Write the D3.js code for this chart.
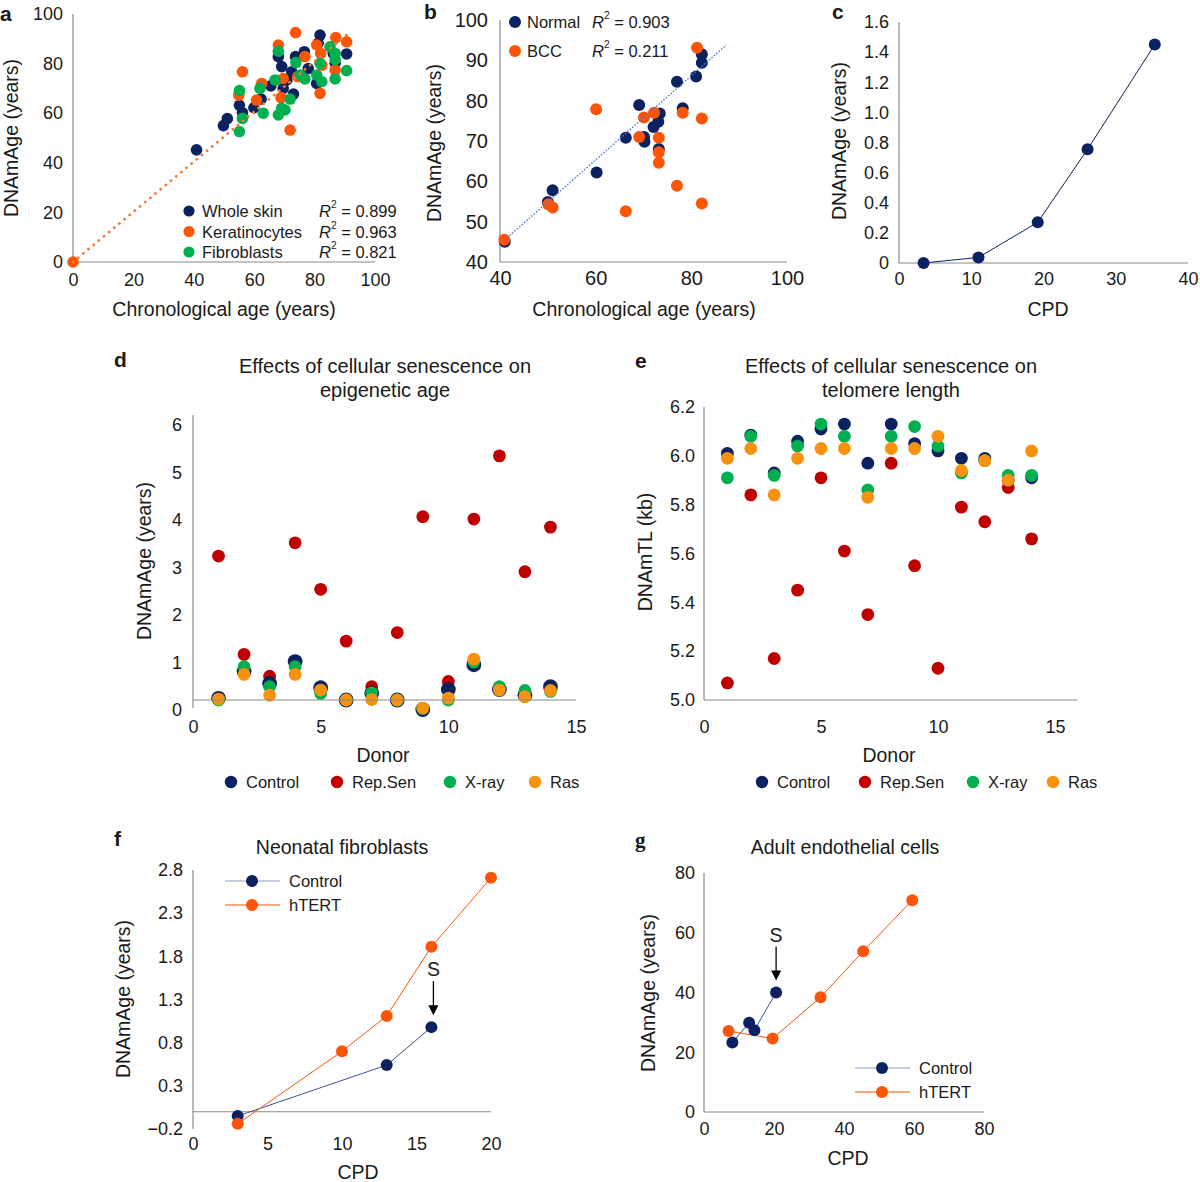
<!DOCTYPE html>
<html>
<head>
<meta charset="utf-8">
<script src="https://cdn.jsdelivr.net/npm/d3@7"></script>
<style>
  body { margin: 0; background: #fff; }
  svg { display: block; font-family: "Liberation Sans", Arial, sans-serif; }
  text { fill: #1a1a1a; }
</style>
</head>
<body>
<div id="chart"></div>
<script>
// ---- data ----
// panel a: [chronological age, DNAmAge]
const wholeSkin = [[40.9,45.2],[49.8,55],[51.1,57.8],[55.1,63.2],[56.1,60.2],[59.9,62.2],[62.3,65.7],[65.5,71],
  [68,82.8],[69.1,78.8],[69.6,70],[70.8,73.4],[72.4,76.7],[73,67.7],[73.7,82.8],[76.6,84.8],[77.9,78],
  [80.7,72],[81.2,88.2],[81.8,91.5],[86.2,84.1],[86.8,80.1],[90.6,83.9]];
const keratinocytes = [[0,0],[54.9,67.3],[56.1,76.7],[60.8,65.3],[62.5,72],[68,87.5],[68.9,66.3],[69.6,74],
  [71.9,53.2],[73.7,92.5],[74.4,74.7],[76.8,82.8],[80.7,87.5],[81.8,68],[82,84.1],[82.4,79.4],[86.8,77.4],
  [87,90.5],[90.6,88.8]];
const fibroblasts = [[55.1,69.1],[55.1,52.6],[56.1,57.9],[61.9,70],[63,60],[66.9,73.4],[68,85],[68,59.3],
  [69.1,62],[70.2,61.3],[71.9,65.7],[73.8,80.4],[75.2,75.4],[76.8,73.8],[80.7,75.4],[81.8,80.1],[82.4,72.7],
  [85.1,86.8],[86.8,84.1],[86.8,81.7],[86.8,73.8],[90.6,77.2]];
const fitA = [[0,0],[91,92]];
const tissues = ['Whole skin', 'Keratinocytes', 'Fibroblasts'];
const tissueR2 = ['0.899', '0.963', '0.821'];

// panel b
const normalSkin = [[41,45],[50,54.9],[51,57.8],[60.2,62.2],[66.3,70.8],[69.1,78.9],[70.1,71],[70.2,69.8],
  [72.1,73.5],[73.1,74.8],[73.4,76.8],[73.2,68],[77,84.7],[78.2,78.1],[81,86],[82.2,91.5],[82.2,89.4]];
const bcc = [[40.9,45.5],[50.1,54.3],[51,53.5],[60.1,77.9],[66.3,52.6],[69.1,71],[70.1,75.8],[72.2,77],
  [73.2,70.8],[73.2,67.2],[73.2,64.6],[77,58.9],[78.2,77],[81.2,93.1],[82.2,75.6],[82.2,54.5]];
const fitB = [[41,45.5],[87.3,93.8]];
const groupsB = ['Normal', 'BCC'];
const groupR2B = ['0.903', '0.211'];

// panel c
const cpdC = [3.4, 11, 19.2, 26.1, 35.4];
const ageC = [0, 0.037, 0.27, 0.755, 1.45];

// panels d, e: donors 1..14
const donors = d3.range(1, 15);
const treatments = ['Control', 'Rep.Sen', 'X-ray', 'Ras'];
const dControl = [0.035,0.6,0.35,0.81,0.26,0,0.14,0,-0.2,0.22,0.74,0.22,0.1,0.28];
const dRepSen  = [3.03,0.96,0.5,3.31,2.33,1.24,0.28,1.42,3.86,0.39,3.81,5.14,2.7,3.64];
const dXray    = [0,0.7,0.28,0.7,0.14,0,0.15,0,-0.18,0,0.8,0.28,0.2,0.18];
const dRas     = [0.02,0.54,0.1,0.54,0.21,0,0.01,0,-0.17,0.04,0.86,0.21,0.07,0.2];
const eControl = [6.01,6.085,5.93,6.06,6.11,6.13,5.97,6.13,6.05,6.02,5.99,5.99,5.9,5.91];
const eRepSen  = [5.07,5.84,5.17,5.45,5.91,5.61,5.35,5.97,5.55,5.13,5.79,5.73,5.87,5.66];
const eXray    = [5.91,6.08,5.92,6.04,6.13,6.08,5.86,6.08,6.12,6.04,5.93,5.98,5.92,5.92];
const eRas     = [5.99,6.03,5.84,5.99,6.03,6.03,5.83,6.03,6.03,6.08,5.94,5.98,5.9,6.02];

// panel f: neonatal fibroblasts
const fCpdControl = [3, 13, 16];
const fControl = [-0.05, 0.54, 0.98];
const fCpdHtert = [3, 10, 13, 16, 20];
const fHtert = [-0.14, 0.7, 1.11, 1.91, 2.71];

// panel g: adult endothelial cells
const gCpdControl = [8.1, 12.9, 14.4, 20.6];
const gControl = [23.3, 29.9, 27.4, 40];
const gCpdHtert = [7, 19.6, 33.3, 45.5, 59.5];
const gHtert = [27.1, 24.6, 38.4, 53.8, 70.9];
const lineGroups = ['Control', 'hTERT'];

// ---- style ----
const NAVY = '#0c2260', ORANGE = '#fc5507', GREEN = '#00b050', RED = '#c00000', AMBER = '#f7920f';
const AXIS = '#8a8a8a', TXT = '#1a1a1a';
const TICK = 18, TITLE = 19.5, LEG = 16.5;

const svg = d3.select('#chart').append('svg').attr('width', 1200).attr('height', 1182);

// ---- helpers ----
function leftLabels(g, y, x0, ticks, fmt, pad, size, dy = 0) {
  const a = g.append('g').attr('transform', `translate(${x0},${dy})`)
    .call(d3.axisLeft(y).tickValues(ticks).tickFormat(fmt).tickSize(0).tickPadding(pad));
  a.select('.domain').remove();
  a.attr('font-family', null).attr('font-size', size);
  a.selectAll('text').attr('fill', TXT);
}
function bottomLabels(g, x, y0, ticks, fmt, pad, size) {
  const a = g.append('g').attr('transform', `translate(0,${y0})`)
    .call(d3.axisBottom(x).tickValues(ticks).tickFormat(fmt).tickSize(0).tickPadding(pad));
  a.select('.domain').remove();
  a.attr('font-family', null).attr('font-size', size);
  a.selectAll('text').attr('fill', TXT);
}
function rule(g, x1, y1, x2, y2) {
  g.append('line').attr('x1', x1).attr('y1', y1).attr('x2', x2).attr('y2', y2)
    .attr('stroke', AXIS).attr('stroke-width', 1.2);
}
function text(g, x, y, s, size, anchor = 'start') {
  return g.append('text').attr('x', x).attr('y', y).attr('font-size', size)
    .attr('text-anchor', anchor).attr('dominant-baseline', 'central').text(s);
}
function yTitle(g, cx, cy, s) {
  g.append('text').attr('transform', `translate(${cx},${cy}) rotate(-90)`)
    .attr('font-size', TITLE).attr('text-anchor', 'middle').attr('dominant-baseline', 'central').text(s);
}
function panelLabel(g, x, y, s, family) {
  const t = text(g, x, y, s, 21).attr('font-weight', 'bold');
  if (family) t.attr('font-family', family);
}
function dots(g, pts, x, y, r, color) {
  g.append('g').selectAll('circle').data(pts).join('circle')
    .attr('cx', d => x(d[0])).attr('cy', d => y(d[1])).attr('r', r).attr('fill', color);
}
function path(g, pts, x, y, color, width) {
  g.append('path').datum(pts).attr('fill', 'none').attr('stroke', color).attr('stroke-width', width)
    .attr('d', d3.line().x(d => x(d[0])).y(d => y(d[1])));
}
function r2(g, x, y, val, size) {
  const t = g.append('text').attr('x', x).attr('y', y).attr('font-size', size).attr('dominant-baseline', 'central');
  t.append('tspan').attr('font-style', 'italic').text('R');
  t.append('tspan').attr('font-size', size * 0.62).attr('dy', -size * 0.42).text('2');
  t.append('tspan').attr('dy', size * 0.42).text(' = ' + val);
}
function arrowS(g, cx, cy) {
  text(g, cx, cy - 58, 'S', TITLE, 'middle');
  g.append('line').attr('x1', cx).attr('x2', cx).attr('y1', cy - 46).attr('y2', cy - 20)
    .attr('stroke', '#000').attr('stroke-width', 1.3);
  g.append('path').attr('d', `M${cx - 5},${cy - 22} L${cx + 5},${cy - 22} L${cx},${cy - 12} Z`).attr('fill', '#000');
}
const zip = (xs, ys) => xs.map((v, i) => [v, ys[i]]);

// ---- panel a ----
{
  const g = svg.append('g');
  const x = d3.scaleLinear([0, 100], [73, 375]);
  const y = d3.scaleLinear([0, 100], [262, 14]);
  rule(g, x(0), y(0), x(0), y(100));
  rule(g, x(0), y(0), x(100), y(0));
  leftLabels(g, y, x(0), d3.range(0, 101, 20), d3.format('d'), 10, TICK);
  bottomLabels(g, x, y(0), d3.range(0, 101, 20), d3.format('d'), 11, TICK);
  const colors = [NAVY, ORANGE, GREEN];
  [wholeSkin, keratinocytes, fibroblasts].forEach((pts, i) => dots(g, pts, x, y, 5.8, colors[i]));
  g.append('path').datum(fitA).attr('fill', 'none').attr('stroke', '#f27a3a').attr('stroke-width', 2.8)
    .attr('stroke-linecap', 'round').attr('stroke-dasharray', '0.1,6.6')
    .attr('d', d3.line().x(d => x(d[0])).y(d => y(d[1])));
  tissues.forEach((name, i) => {
    const ly = 211 + i * 20.5;
    g.append('circle').attr('cx', 189).attr('cy', ly).attr('r', 5.6).attr('fill', colors[i]);
    text(g, 202, ly, name, LEG);
    r2(g, 319, ly, tissueR2[i], LEG);
  });
  yTitle(g, 11, 138, 'DNAmAge (years)');
  text(g, 224, 309, 'Chronological age (years)', TITLE, 'middle');
  panelLabel(g, 0, 13, 'a');
}

// ---- panel b ----
{
  const g = svg.append('g');
  const x = d3.scaleLinear([40, 100], [500, 787]);
  const y = d3.scaleLinear([40, 100], [262, 20]);
  rule(g, x(40), y(40), x(40), y(100));
  rule(g, x(40), y(40), x(100), y(40));
  leftLabels(g, y, x(40), d3.range(40, 101, 10), d3.format('d'), 12, 20);
  bottomLabels(g, x, y(40), d3.range(40, 101, 20), d3.format('d'), 9, 20);
  dots(g, normalSkin, x, y, 6, NAVY);
  dots(g, bcc, x, y, 6, ORANGE);
  g.append('path').datum(fitB).attr('fill', 'none').attr('stroke', '#4a78d0').attr('stroke-width', 1.3)
    .attr('stroke-dasharray', '1.6,1.6')
    .attr('d', d3.line().x(d => x(d[0])).y(d => y(d[1])));
  groupsB.forEach((name, i) => {
    const ly = 22 + i * 29;
    g.append('circle').attr('cx', 515).attr('cy', ly).attr('r', 6).attr('fill', [NAVY, ORANGE][i]);
    text(g, 527, ly, name, LEG);
    r2(g, 592, ly, groupR2B[i], LEG);
  });
  yTitle(g, 434, 143, 'DNAmAge (years)');
  text(g, 644, 309, 'Chronological age (years)', TITLE, 'middle');
  panelLabel(g, 424, 11, 'b');
}

// ---- panel c ----
{
  const g = svg.append('g');
  const x = d3.scaleLinear([0, 40], [899, 1188]);
  const y = d3.scaleLinear([0, 1.6], [263, 22]);
  rule(g, x(0), y(0), x(0), y(1.6));
  rule(g, x(0), y(0), x(40), y(0));
  leftLabels(g, y, x(0), d3.range(0, 1.61, 0.2), d => d === 0 ? '0' : d.toFixed(1), 10, TICK);
  bottomLabels(g, x, y(0), d3.range(0, 41, 10), d3.format('d'), 9, TICK);
  const pts = zip(cpdC, ageC);
  path(g, pts, x, y, NAVY, 1);
  dots(g, pts, x, y, 6, NAVY);
  yTitle(g, 839, 141, 'DNAmAge (years)');
  text(g, 1048, 309, 'CPD', TITLE, 'middle');
  panelLabel(g, 832, 11, 'c');
}

// ---- panels d, e ----
function senescencePanel(opts) {
  const g = svg.append('g');
  const { x, y } = opts;
  const treatColors = [NAVY, RED, GREEN, AMBER];
  // draw order: Rep.Sen, Control, X-ray, Ras
  [[1, opts.series[1]], [0, opts.series[0]], [2, opts.series[2]], [3, opts.series[3]]].forEach(([k, vals]) => {
    dots(g, zip(donors, vals), x, y, k === 0 ? opts.rControl : 6.4, treatColors[k]);
  });
  opts.title.forEach((s, i) => text(g, opts.titleX, 366 + i * 24, s, 20, 'middle'));
  text(g, opts.titleX - 2, 755, 'Donor', TITLE, 'middle');
  treatments.forEach((name, i) => {
    g.append('circle').attr('cx', opts.legendDots[i]).attr('cy', 782).attr('r', 6.2).attr('fill', treatColors[i]);
    text(g, opts.legendDots[i] + 15, 782, name, LEG);
  });
  return g;
}
{
  const x = d3.scaleLinear([0, 15], [193, 576]);
  const y = d3.scaleLinear([0, 6], [700, 415]);
  const g = senescencePanel({
    x, y, series: [dControl, dRepSen, dXray, dRas], rControl: 7.4,
    title: ['Effects of cellular senescence on', 'epigenetic age'], titleX: 385,
    legendDots: [231, 337, 450, 535]
  });
  rule(g, x(0), y(6), x(0), y(0) + 8);
  rule(g, x(0), y(0), x(15), y(0));
  g.lower();
  leftLabels(g, y, x(0), d3.range(0, 7), d3.format('d'), 11, TICK, 10);
  bottomLabels(g, x, y(0), [0, 5, 10, 15], d3.format('d'), 20, TICK);
  yTitle(g, 144, 561, 'DNAmAge (years)');
  panelLabel(g, 114, 359, 'd');
}
{
  const x = d3.scaleLinear([0, 15], [704, 1055]);
  const y = d3.scaleLinear([5, 6.2], [700, 407]);
  const g = senescencePanel({
    x, y, series: [eControl, eRepSen, eXray, eRas], rControl: 6.4,
    title: ['Effects of cellular senescence on', 'telomere length'], titleX: 891,
    legendDots: [762, 865, 973, 1053]
  });
  rule(g, x(0), y(5), x(0), y(6.2));
  rule(g, x(0), y(5), x(15.95), y(5));
  g.lower();
  leftLabels(g, y, x(0), d3.range(5, 6.21, 0.2), d => d.toFixed(1), 9, TICK);
  bottomLabels(g, x, y(5), [0, 5, 10, 15], d3.format('d'), 20, TICK);
  yTitle(g, 645, 552, 'DNAmTL (kb)');
  panelLabel(g, 635, 360, 'e');
}

// ---- panels f, g ----
function lineLegend(g, x0, rows) {
  lineGroups.forEach((name, i) => {
    const ly = rows[i];
    const c = [NAVY, ORANGE][i];
    g.append('line').attr('x1', x0).attr('x2', x0 + 55).attr('y1', ly).attr('y2', ly)
      .attr('stroke', i === 0 ? '#8a9cc4' : ORANGE).attr('stroke-width', 1.2);
    g.append('circle').attr('cx', x0 + 27).attr('cy', ly).attr('r', 6).attr('fill', c);
    text(g, x0 + 64, ly, name, LEG);
  });
}
{
  const g = svg.append('g');
  const x = d3.scaleLinear([0, 20], [193, 491]);
  const y = d3.scaleLinear([-0.2, 2.8], [1129, 870]);
  rule(g, x(0), y(-0.2), x(0), y(2.8));
  rule(g, x(0), y(0), x(20), y(0));
  leftLabels(g, y, x(0), [-0.2, 0.3, 0.8, 1.3, 1.8, 2.3, 2.8],
    d => d < 0 ? '\u2212' + Math.abs(d).toFixed(1) : d.toFixed(1), 10, TICK);
  bottomLabels(g, x, y(-0.2), [0, 5, 10, 15, 20], d3.format('d'), 8, TICK);
  const ctrl = zip(fCpdControl, fControl), ht = zip(fCpdHtert, fHtert);
  path(g, ctrl, x, y, '#3d5596', 1);
  path(g, ht, x, y, ORANGE, 1);
  dots(g, ctrl, x, y, 6, NAVY);
  dots(g, ht, x, y, 6, ORANGE);
  const last = ctrl[ctrl.length - 1];
  arrowS(g, x(last[0]) + 2, y(last[1]));
  lineLegend(g, 225, [881, 905]);
  text(g, 342, 847, 'Neonatal fibroblasts', TITLE, 'middle');
  yTitle(g, 123, 999, 'DNAmAge (years)');
  text(g, 358, 1172, 'CPD', TITLE, 'middle');
  panelLabel(g, 114, 838, 'f');
}
{
  const g = svg.append('g');
  const x = d3.scaleLinear([0, 80], [704, 984]);
  const y = d3.scaleLinear([0, 80], [1112, 873]);
  rule(g, x(0), y(0), x(0), y(80));
  rule(g, x(0), y(0), x(80), y(0));
  leftLabels(g, y, x(0), d3.range(0, 81, 20), d3.format('d'), 9, TICK);
  bottomLabels(g, x, y(0), d3.range(0, 81, 20), d3.format('d'), 10, TICK);
  const ctrl = zip(gCpdControl, gControl), ht = zip(gCpdHtert, gHtert);
  path(g, ht, x, y, ORANGE, 1);
  path(g, ctrl, x, y, '#3d5596', 1);
  dots(g, ht, x, y, 6, ORANGE);
  dots(g, ctrl, x, y, 6, NAVY);
  const last = ctrl[ctrl.length - 1];
  arrowS(g, x(last[0]), y(last[1]));
  lineLegend(g, 855, [1068, 1092]);
  text(g, 845, 847, 'Adult endothelial cells', TITLE, 'middle');
  yTitle(g, 648, 993, 'DNAmAge (years)');
  text(g, 848, 1158, 'CPD', TITLE, 'middle');
  panelLabel(g, 635, 840, 'g', '"Liberation Serif", serif');
}
</script>
</body>
</html>
